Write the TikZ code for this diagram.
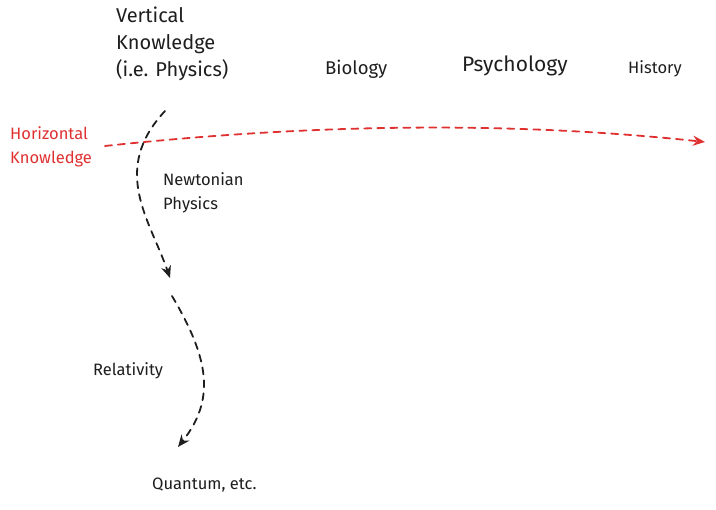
\documentclass[tikz,border=0pt]{standalone}
\usepackage{fontspec}
\setmainfont{Fira Sans}
\usetikzlibrary{arrows.meta}
\definecolor{myred}{HTML}{E03131}
\definecolor{ink}{HTML}{1E1E1E}
\begin{document}
\begin{tikzpicture}[x=1pt,y=-1pt,
  lbl/.style={anchor=north west,inner sep=0pt,text=ink,align=left,font=\fontsize{16.5}{24}\selectfont},
  big/.style={lbl,font=\fontsize{20}{27}\selectfont},
  conn/.style={dashed,dash pattern=on 7pt off 6pt,line width=1.8pt,line cap=round,-{Stealth[length=12pt,width=10pt]}}]
\useasboundingbox[fill=white] (0,0) rectangle (716,510);
\node[big] (vk) at (116,7) {Vertical\\Knowledge\\(i.e. Physics)};
\node[lbl,font=\fontsize{18.5}{22}\selectfont] (bio) at (325,60) {Biology};
\node[lbl,font=\fontsize{21}{24}\selectfont] (psy) at (462,56) {Psychology};
\node[lbl] (his) at (628,60) {History};
\node[lbl,text=myred] (hk) at (10,126) {Horizontal\\Knowledge};
\node[lbl] (np) at (163,172) {Newtonian\\Physics};
\node[lbl] (rel) at (93,362) {Relativity};
\node[lbl] (qu) at (152,478) {Quantum, etc.};
\coordinate (r0) at (105,146);
\coordinate (r1) at (705,142);
\draw[conn,myred] (r0) .. controls (300,125) and (500,120) .. (r1);
\coordinate (a0) at (165,111);
\coordinate (a1) at (170,278);
\draw[conn,ink] (a0) .. controls (110,170) and (150,220) .. (a1);
\coordinate (b0) at (172,296);
\coordinate (b1) at (178,447);
\draw[conn,ink] (b0) .. controls (210,360) and (215,400) .. (b1);
\end{tikzpicture}
\end{document}
